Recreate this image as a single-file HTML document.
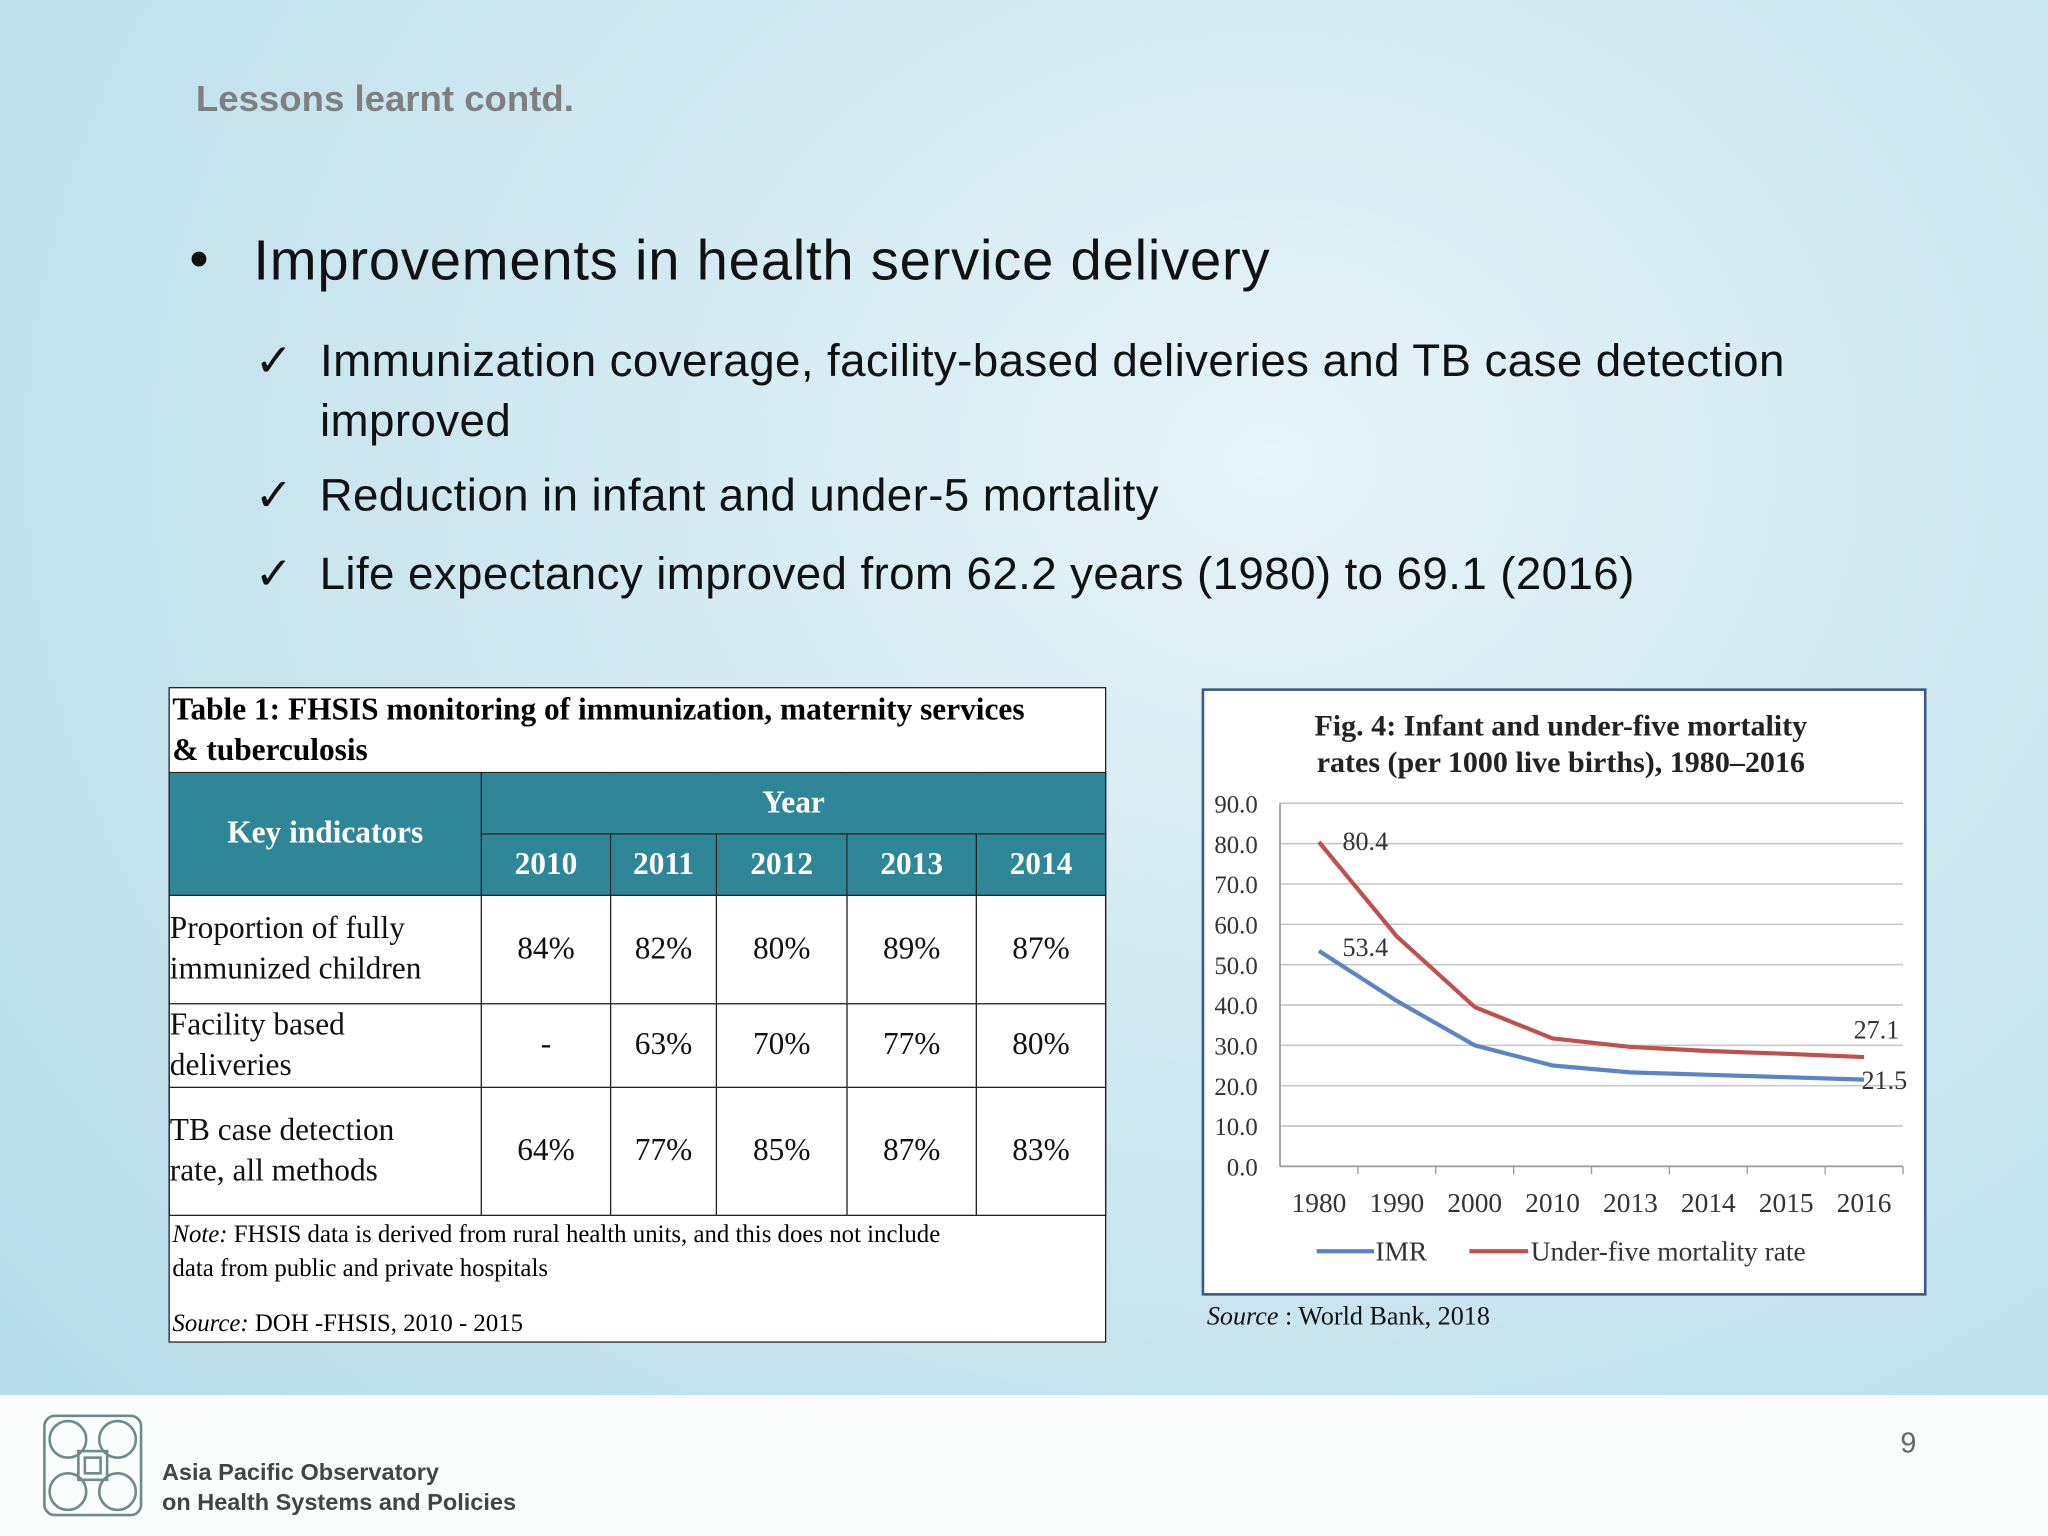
<!DOCTYPE html>
<html><head><meta charset="utf-8"><style>
html,body{margin:0;padding:0;width:2048px;height:1536px;overflow:hidden;}
#stage{position:absolute;left:0;top:0;width:1568px;height:1176px;transform:scale(1.306122);transform-origin:0 0;
background:radial-gradient(ellipse at 62% 30%,#e6f3f8 0%,#d3eaf2 35%,#bfe0ec 75%,#b4dbe9 100%);font-family:"Liberation Sans",sans-serif;overflow:hidden;}
.abs{position:absolute;}
.ser{font-family:"Liberation Serif",serif;}
table{border-collapse:collapse;}
td{border:1px solid #222;text-align:center;font-family:"Liberation Serif",serif;font-size:24px;color:#111;padding:0;}
td.h{background:#2f8699;color:#fff;font-weight:bold;}
td.l{text-align:left;line-height:31px;}
</style></head><body>
<div id="stage">
<div class="abs" style="left:150px;top:60px;font-size:28px;font-weight:bold;color:#7f7f7f;">Lessons learnt contd.</div>
<div class="abs" style="left:145px;top:174px;font-size:42px;color:#111;">•</div>
<div class="abs" style="left:194px;top:176px;font-size:43px;color:#111;letter-spacing:0.6px;">Improvements in health service delivery</div>
<div class="abs" style="left:195px;top:254px;font-size:35px;color:#111;line-height:46px;">✓</div>
<div class="abs" style="left:245px;top:254px;width:1150px;font-size:35px;color:#111;line-height:46px;letter-spacing:0.3px;">Immunization coverage, facility-based deliveries and TB case detection<br>improved</div>
<div class="abs" style="left:195px;top:360px;font-size:35px;color:#111;letter-spacing:0.3px;">✓&nbsp;&nbsp;Reduction in infant and under-5 mortality</div>
<div class="abs" style="left:195px;top:420px;font-size:35px;color:#111;letter-spacing:0.3px;">✓&nbsp;&nbsp;Life expectancy improved from 62.2 years (1980) to 69.1 (2016)</div>

<div class="abs" style="left:129px;top:526px;width:716px;height:500px;background:#fff;border:1px solid #222;">
<div class="ser" style="position:absolute;left:2px;top:2px;font-size:24px;font-weight:bold;line-height:31px;">Table 1: FHSIS monitoring of immunization, maternity services<br>&amp; tuberculosis</div>
<table style="position:absolute;left:-1px;top:64px;width:718px;">
<tr style="height:47px"><td class="h" rowspan="2" style="width:238px">Key indicators</td><td class="h" colspan="5">Year</td></tr>
<tr style="height:47px"><td class="h" style="width:98px">2010</td><td class="h" style="width:80px">2011</td><td class="h" style="width:99px">2012</td><td class="h" style="width:98px">2013</td><td class="h">2014</td></tr>
<tr style="height:83px"><td class="l">Proportion of fully<br>immunized children</td><td>84%</td><td>82%</td><td>80%</td><td>89%</td><td>87%</td></tr>
<tr style="height:64px"><td class="l">Facility based<br>deliveries</td><td>-</td><td>63%</td><td>70%</td><td>77%</td><td>80%</td></tr>
<tr style="height:98px"><td class="l">TB case detection<br>rate, all methods</td><td>64%</td><td>77%</td><td>85%</td><td>87%</td><td>83%</td></tr>
</table>
<div class="ser" style="position:absolute;left:2px;top:406px;font-size:19px;line-height:26px;"><i>Note:</i> FHSIS data is derived from rural health units, and this does not include<br>data from public and private hospitals</div>
<div class="ser" style="position:absolute;left:2px;top:476px;font-size:19px;"><i>Source:</i> DOH -FHSIS, 2010 - 2015</div>
</div>

<div class="abs" style="left:920px;top:527px;width:551px;height:461px;background:#fff;border:2px solid #3a5a85;"></div>
<svg class="abs" style="left:0;top:0" width="1568" height="1176" id="chart"></svg>
<div class="abs ser" style="left:924px;top:997px;font-size:20px;color:#111;"><i>Source</i> : World Bank, 2018</div>

<div class="abs" style="left:0;top:1068px;width:1568px;height:108px;background:#fbfdfd;"></div>
<svg class="abs" style="left:32px;top:1082px" width="78" height="80" viewBox="0 0 78 80">
<g fill="none" stroke="#6e8a8a" stroke-width="2">
<rect x="2" y="2" width="74" height="76" rx="8"/><circle cx="20" cy="20" r="14"/><circle cx="58" cy="20" r="14"/><circle cx="20" cy="60" r="14"/><circle cx="58" cy="60" r="14"/><rect x="28" y="29" width="22" height="22"/><rect x="33" y="34" width="12" height="12"/></g></svg>
<div class="abs" style="left:124px;top:1116px;font-size:18px;font-weight:bold;color:#444;line-height:23px;">Asia Pacific Observatory<br>on Health Systems and Policies</div>
<div class="abs" style="left:1455px;top:1092px;font-size:22px;color:#666;">9</div>
</div>
<script>
const categories=["1980","1990","2000","2010","2013","2014","2015","2016"];
const imr=[53.4,41.0,30.0,25.0,23.3,22.7,22.1,21.5];
const u5=[80.4,57.0,39.5,31.7,29.6,28.6,27.9,27.1];
const yTicks=[0,10,20,30,40,50,60,70,80,90];
const svg=document.getElementById('chart');const NS='http://www.w3.org/2000/svg';
const x0=980,x1=1457,yb=893,yt=615;
const bw=(x1-x0)/categories.length;
const X=i=>x0+bw*(i+0.5);const Y=v=>yb-(v/90)*(yb-yt);
function mk(t,a,p){const e=document.createElementNS(NS,t);for(const k in a)e.setAttribute(k,a[k]);(p||svg).appendChild(e);return e;}
let t=mk('text',{x:1195,y:563,'text-anchor':'middle','font-family':'Liberation Serif, serif','font-size':23,'font-weight':'bold',fill:'#222'});t.textContent='Fig. 4: Infant and under-five mortality';


t=mk('text',{x:1195,y:591,'text-anchor':'middle','font-family':'Liberation Serif, serif','font-size':23,'font-weight':'bold',fill:'#222'});t.textContent='rates (per 1000 live births), 1980–2016';


yTicks.forEach(v=>{
 const g=mk('line',{x1:x0,x2:x1,y1:Y(v),y2:Y(v),stroke:v===0?'#999':'#c8c8c8','stroke-width':1.3});
 
 
 const l=mk('text',{x:963,y:Y(v)+7,'text-anchor':'end','font-family':'Liberation Serif, serif','font-size':19,fill:'#333'});l.textContent=v.toFixed(1);
 
 
});
const ax=mk('line',{x1:x0,x2:x0,y1:yt,y2:yb,stroke:'#999','stroke-width':1.3});


categories.forEach((c,i)=>{
 const tk=mk('line',{x1:x0+bw*(i+1),x2:x0+bw*(i+1),y1:yb,y2:yb+6,stroke:'#999'});
 
 
 const l=mk('text',{x:X(i),y:928,'text-anchor':'middle','font-family':'Liberation Serif, serif','font-size':21,fill:'#333'});l.textContent=c;
 
 
});
function line(d,col,name){const p=mk('polyline',{points:d.map((v,i)=>X(i)+','+Y(v)).join(' '),fill:'none',stroke:col,'stroke-width':3.2,'stroke-linejoin':'round'});
 
 }
line(imr,'#5b84c4','imr-line');line(u5,'#c0504d','u5-line');
function lab(txt,x,y,name,fs){const l=mk('text',{x:x,y:y,'font-family':'Liberation Serif, serif','font-size':fs||20,fill:'#333'});l.textContent=txt;
 
 }
lab(u5[0].toFixed(1),X(0)+18,Y(u5[0])+6,'u5-label-1980');lab(imr[0].toFixed(1),X(0)+18,Y(imr[0])+4,'imr-label-1980');
lab(u5[7].toFixed(1),X(7)-8,Y(u5[7])-14,'u5-label-2016');lab(imr[7].toFixed(1),X(7)-2,Y(imr[7])+7,'imr-label-2016');
const l1=mk('line',{x1:1008,x2:1052,y1:958,y2:958,stroke:'#5b84c4','stroke-width':3.2});


lab('IMR',1053,965,'legend-imr',21);
const l2=mk('line',{x1:1125,x2:1170,y1:958,y2:958,stroke:'#c0504d','stroke-width':3.2});


lab('Under-five mortality rate',1172,965,'legend-u5',21);
</script>
</body></html>
